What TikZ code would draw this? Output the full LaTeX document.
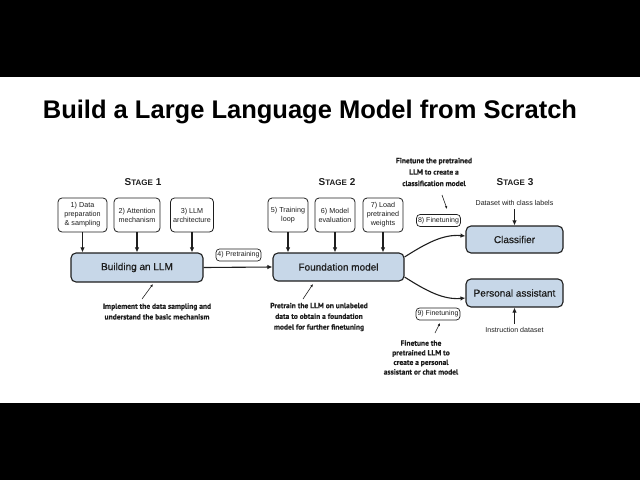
\documentclass[tikz,border=0pt]{standalone}
\usepackage{fontspec}
\setmainfont{Liberation Sans}
\newfontfamily\annfont{PT Sans}[FakeBold=0.4]
\newfontfamily\medfont{Liberation Sans}[FakeBold=0.7]
\usetikzlibrary{arrows.meta}
\definecolor{boxblue}{HTML}{C7D7E8}
\definecolor{ink}{HTML}{1E1E1E}
\newcommand\stagelabel[1]{{\fontsize{10}{12}\selectfont S}{\fontsize{8}{12}\selectfont TAGE} {\fontsize{10}{12}\selectfont #1}}
\begin{document}
\begin{tikzpicture}[x=1pt,y=-1pt,
  stepbox/.style={draw=ink, line width=0.8pt, rounded corners=4pt, align=center,
    font=\fontsize{7.2}{9}\selectfont, inner sep=1pt, minimum height=34pt, text=ink},
  mainbox/.style={draw=ink, fill=boxblue, line width=1.1pt, rounded corners=5pt,
    font=\medfont\fontsize{10}{12}\selectfont, text=ink},
  tagbox/.style={draw=ink, line width=0.7pt, rounded corners=3.5pt,
    font=\fontsize{7}{8}\selectfont, inner sep=1.5pt, minimum height=12pt, text=ink},
  arr/.style={-{Latex[length=5pt,width=4.5pt]}, line width=1.1pt, draw=ink},
  thinarr/.style={-{Latex[length=3pt,width=2.6pt]}, line width=0.6pt, draw=ink},
  note/.style={font=\annfont\bfseries\fontsize{7.5}{10.7}\selectfont, align=center, text=ink},
  stage/.style={font=\bfseries, text=ink},
  plain/.style={font=\fontsize{7.1}{9}\selectfont, text=ink}
]
\useasboundingbox (0,0) rectangle (640,480);
\fill[black] (0,0) rectangle (640,77);
\fill[black] (0,403) rectangle (640,480);

\node[font=\bfseries\fontsize{25.5}{30}\selectfont] (title) at (310,112) {Build a Large Language Model from Scratch};

% stage labels
\node[stage] (s1) at (143,182) {\stagelabel{1}};
\node[stage] (s2) at (337,182) {\stagelabel{2}};
\node[stage] (s3) at (515,182) {\stagelabel{3}};

% stage 1
\node[stepbox, minimum width=49pt] (b1) at (82.5,215) {1) Data\\preparation\\\& sampling};
\node[stepbox, minimum width=46pt] (b2) at (137,215) {2) Attention\\mechanism};
\node[stepbox, minimum width=43pt] (b3) at (192,215) {3) LLM\\architecture};
\node[mainbox, minimum width=132pt, minimum height=29pt] (llm) at (137,267.5) {Building an LLM};
\draw[arr] (b1.south) -- (b1.south |- llm.north);
\draw[arr] (b2.south) -- (b2.south |- llm.north);
\draw[arr] (b3.south) -- (b3.south |- llm.north);

% stage 2
\node[stepbox, minimum width=40pt] (b5) at (288,215) {5) Training\\loop};
\node[stepbox, minimum width=40pt] (b6) at (335,215) {6) Model\\evaluation};
\node[stepbox, minimum width=40pt] (b7) at (383,215) {7) Load\\pretrained\\weights};
\node[mainbox, minimum width=131pt, minimum height=28pt] (fm) at (338.5,267) {Foundation model};
\draw[arr] (b5.south) -- (b5.south |- fm.north);
\draw[arr] (b6.south) -- (b6.south |- fm.north);
\draw[arr] (b7.south) -- (b7.south |- fm.north);

\node[tagbox] (pre) at (238.5,255) {4) Pretraining};
\draw[arr] (llm.east) -- (fm.west);

% stage 3
\node[mainbox, minimum width=97pt, minimum height=27pt] (cls) at (514.5,239.5) {Classifier};
\node[mainbox, minimum width=97pt, minimum height=28pt] (pa) at (514.5,293) {Personal assistant};
\node[plain] (dcl) at (514.5,203) {Dataset with class labels};
\node[plain] (ins) at (514.5,330) {Instruction dataset};
\draw[arr] (dcl.south) -- (cls.north);
\draw[arr] (ins.north) -- (pa.south);

\node[tagbox] (ft8) at (438.5,220.5) {8) Finetuning};
\node[tagbox] (ft9) at (438,314) {9) Finetuning};
\draw[arr] ([yshift=10pt]fm.east) .. controls +(22,-14) and +(-22,-2) .. ([yshift=3.5pt]cls.west);
\draw[arr] ([yshift=-10pt]fm.east) .. controls +(22,14) and +(-22,2) .. ([yshift=-5pt]pa.west);

% notes
\node[note, font=\annfont\bfseries\fontsize{7.5}{11.4}\selectfont] (n8) at (434,172) {Finetune the pretrained\\LLM to create a\\classification model};
\node[note, font=\annfont\bfseries\fontsize{7.5}{9.6}\selectfont] (n9) at (421,357.5) {Finetune the\\pretrained LLM to\\create a personal\\assistant or chat model};
\node[note] (n1) at (157,311.5) {Implement the data sampling and\\understand the basic mechanism};
\node[note] (n2) at (319,317) {Pretrain the LLM on unlabeled\\data to obtain a foundation\\model for further finetuning};

\coordinate (a8s) at (442,195); \coordinate (a8e) at (447,209);
\coordinate (a9s) at (435,333); \coordinate (a9e) at (440,323);
\coordinate (a1s) at (142,299); \coordinate (a1e) at (153,284);
\coordinate (a2s) at (303,299); \coordinate (a2e) at (313,284);
\draw[thinarr] (a8s) -- (a8e);
\draw[thinarr] (a9s) -- (a9e);
\draw[thinarr] (a1s) -- (a1e);
\draw[thinarr] (a2s) -- (a2e);
\end{tikzpicture}
\end{document}
